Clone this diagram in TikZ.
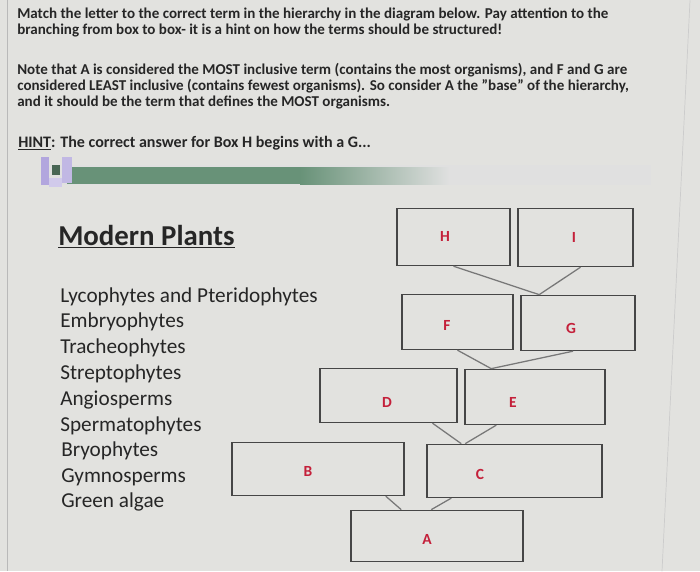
\documentclass[tikz,border=0pt]{standalone}
\usepackage{fontspec}
\setmainfont{Carlito}
\usepackage{tikz}
\usetikzlibrary{positioning,calc,fit}
\definecolor{paper}{RGB}{226,226,223}
\definecolor{ink}{RGB}{38,38,38}
\definecolor{boxline}{RGB}{70,70,70}
\definecolor{linkline}{RGB}{120,120,120}
\definecolor{letterred}{RGB}{196,32,58}
\definecolor{bargreen}{RGB}{104,146,120}
\definecolor{barlav}{RGB}{178,166,222}

\begin{document}
\begin{tikzpicture}[x=0.025cm, y=-0.025cm,
    box/.style={draw=boxline, line width=1.1pt, inner sep=0pt},
    link/.style={draw=linkline, line width=0.9pt},
    letter/.style={text=letterred, font=\fontsize{11}{13}\selectfont\bfseries},
    question/.style={anchor=base west, text=ink, inner sep=0pt, font=\fontsize{10.7}{12}\selectfont\bfseries},
    term/.style={anchor=base west, text=ink, inner sep=0pt, font=\fontsize{15.1}{17}\selectfont}]

    % Fond de la page
    \fill[paper] (0,0) rectangle (700,571);
    \draw[gray!55, line width=0.6pt] (7,0) -- (7,571);
    \draw[gray!40, line width=0.5pt] (690,0) -- (662,571);

    % Consigne
    \node[question] (q1) at (17,18) {Match the letter to the correct term in the hierarchy in the diagram below. Pay attention to the};
    \node[question] (q2) at (17,34) {branching from box to box- it is a hint on how the terms should be structured!};
    \node[question] (q3) at (17,74) {Note that A is considered the MOST inclusive term (contains the most organisms), and F and G are};
    \node[question] (q4) at (17,90) {considered LEAST inclusive (contains fewest organisms). So consider A the \symbol{34}base\symbol{34} of the hierarchy,};
    \node[question] (q5) at (17,106) {and it should be the term that defines the MOST organisms.};
    \node[question, font=\fontsize{11.4}{13}\selectfont\bfseries] (q6) at (18,147) {\underline{HINT}: The correct answer for Box H begins with a G...};

    % Bandeau
    \fill[black!12] (41,165) rectangle (651,185);
    \shade[left color=bargreen, right color=black!12] (300,167) rectangle (450,184);
    \fill[bargreen] (67,167) rectangle (300,184);
    \fill[barlav] (41,157) rectangle (49,185);
    \fill[barlav!80] (62,157) rectangle (72,183);
    \fill[barlav!60] (49,178) rectangle (62,187);
    \fill[bargreen!70!black] (52,165) rectangle (60,175);

    % Liste des termes
    \node[term, font=\fontsize{20.5}{23}\selectfont\bfseries] (title) at (58,245) {\underline{Modern Plants}};
    \node[term] (t1) at (60,302) {Lycophytes and Pteridophytes};
    \node[term] (t2) at (60,327) {Embryophytes};
    \node[term] (t3) at (60,353) {Tracheophytes};
    \node[term] (t4) at (60,379) {Streptophytes};
    \node[term] (t5) at (60,405) {Angiosperms};
    \node[term] (t6) at (60,431) {Spermatophytes};
    \node[term] (t7) at (61,456) {Bryophytes};
    \node[term] (t8) at (61,482) {Gymnosperms};
    \node[term] (t9) at (61,507) {Green algae};

    % Boites de la hierarchie
    \node[box, fit={(397,208) (510,265)}] (H) {};
    \node[box, fit={(518,208) (633,266)}] (I) {};
    \node[box, fit={(402,294) (513,349)}] (F) {};
    \node[box, fit={(521,295) (635,350)}] (G) {};
    \node[box, fit={(320,368) (457,422)}] (D) {};
    \node[box, fit={(465,369) (605,424)}] (E) {};
    \node[box, fit={(232,442) (404,495)}] (B) {};
    \node[box, fit={(427,444) (602,497)}] (C) {};
    \node[box, fit={(351,510) (523,561)}] (A) {};

    % Lettres
    \node[letter] (lH) at (445,236) {H};
    \node[letter] (lI) at (574,237) {I};
    \node[letter] (lF) at (447,325) {F};
    \node[letter] (lG) at (571,328) {G};
    \node[letter] (lD) at (387,402) {D};
    \node[letter] (lE) at (513,402) {E};
    \node[letter] (lB) at (308,471) {B};
    \node[letter] (lC) at (480,474) {C};
    \node[letter] (lA) at (427,539) {A};

    % Branchements
    \draw[link] (H.south) -- ($(G.north west)+(19,0)$);
    \draw[link] ($(I.south)+(5,0)$) -- ($(G.north west)+(19,0)$);
    \draw[link] (F.south) -- ($(E.north west)+(27,0)$);
    \draw[link] ($(G.south)+(-5,0)$) -- ($(E.north west)+(27,0)$);
    \draw[link] ($(D.south)+(44,0)$) -- ($(C.north west)+(35,0)$);
    \draw[link] ($(E.south west)+(32,0)$) -- ($(C.north west)+(39,0)$);
    \draw[link] ($(B.south east)+(-19,0)$) -- ($(A.north west)+(51,0)$);
    \draw[link] ($(C.south west)+(25,0)$) -- ($(A.north west)+(81,0)$);

\end{tikzpicture}
\end{document}
